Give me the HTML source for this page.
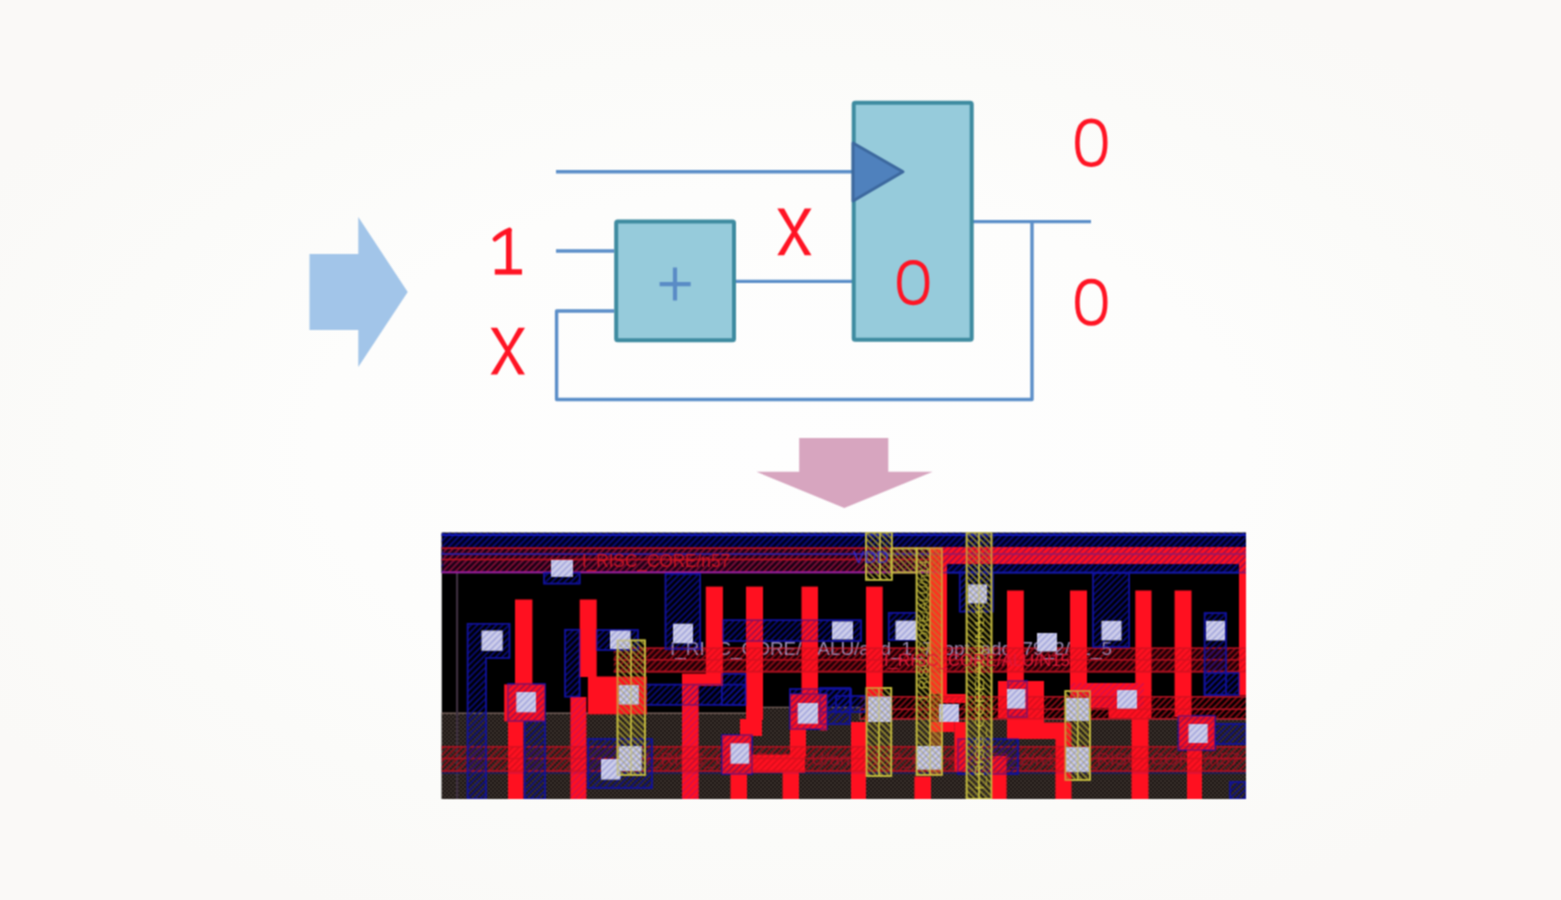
<!DOCTYPE html>
<html><head><meta charset="utf-8"><style>
html,body{margin:0;padding:0;width:1561px;height:900px;overflow:hidden;}
body{background:radial-gradient(ellipse 930px 520px at 780px 450px, #fefefe 0%, #fdfdfc 50%, #fbfbf9 75%, #faf9f7 100%);font-family:"Liberation Sans",sans-serif;}
svg{position:absolute;left:0;top:0;}
</style></head><body>
<svg width="1561" height="900" viewBox="0 0 1561 900">
<defs><filter id="soft2" filterUnits="userSpaceOnUse" x="0" y="0" width="1561" height="900" color-interpolation-filters="sRGB"><feConvolveMatrix order="3" kernelMatrix="1 2 1 2 4 2 1 2 1" divisor="16" edgeMode="none"/></filter></defs>
<g filter="url(#soft2)">
<!-- right arrow -->
<polygon points="309.5,254 358.3,254 358.3,217 407.7,292 358.3,367 358.3,330 309.5,330" fill="#a2c5e9"/>
<!-- wires -->
<g fill="none" stroke="#5b8ec8" stroke-width="3.4" stroke-linejoin="round" stroke-linecap="butt">
<path d="M556 171.7H852"/>
<path d="M556 251H614"/>
<path d="M614 311H556.6V399.5H1032V221.6"/>
<path d="M735 281.4H852"/>
<path d="M973 221.6H1091"/>
</g>
<!-- adder -->
<rect x="616.2" y="221.5" width="117.8" height="118.7" rx="1.5" fill="#96cbdb" stroke="#3e8ba0" stroke-width="4"/>
<path d="M659.6 284.2H690.7M675 267.6V300.4" stroke="#5a8cc6" stroke-width="4.2" fill="none"/>
<!-- flip flop -->
<rect x="853.7" y="102.7" width="118" height="237.1" rx="1.5" fill="#96cbdb" stroke="#3e8ba0" stroke-width="4"/>
<polygon points="853,143 903,171.8 853,201" fill="#4f81bd" stroke="#3c689e" stroke-width="3" stroke-linejoin="round"/>
<!-- pink down arrow -->
<polygon points="799.2,438 888.3,438 888.3,471.8 932.7,471.8 844.3,508.1 756.4,471.8 799.2,471.8" fill="#d7a5bf"/>
<!-- red glyphs -->
<g fill="none" stroke="#ff1424">
<path d="M508.8 229V272" stroke-width="5.6"/><path d="M495 239.2Q501 233.5 509.5 230" stroke-width="4.6" stroke-linecap="round"/><path d="M494.8 271.9H522" stroke-width="5.4"/>
<polygon points="490.6,327.8 497.20000000000005,327.8 510.40,351.10 525,374.4 518.4,374.4 505.20,351.10" fill="#ff1424" stroke="none"/><polygon points="518.4,327.8 525,327.8 510.40,351.10 497.20000000000005,374.4 490.6,374.4 505.20,351.10" fill="#ff1424" stroke="none"/>
<polygon points="777.3,208.6 784.0999999999999,208.6 797.10,231.95 811.5,255.3 804.7,255.3 791.70,231.95" fill="#ff1424" stroke="none"/><polygon points="804.7,208.6 811.5,208.6 797.10,231.95 784.0999999999999,255.3 777.3,255.3 791.70,231.95" fill="#ff1424" stroke="none"/>
<path d="M1091.3 120.9C1099.9 120.9 1105.2 127.0 1105.2 142.8C1105.2 158.6 1099.9 164.7 1091.3 164.7C1082.7 164.7 1077.4 158.6 1077.4 142.8C1077.4 127.0 1082.7 120.9 1091.3 120.9Z" stroke-width="4.6"/>
<path d="M1091.3 281.1C1099.9 281.1 1105.2 287.0 1105.2 302.3C1105.2 317.6 1099.9 323.5 1091.3 323.5C1082.7 323.5 1077.4 317.6 1077.4 302.3C1077.4 287.0 1082.7 281.1 1091.3 281.1Z" stroke-width="4.6"/>
<path d="M913.2 262.2C921.8 262.2 927.1 267.9 927.1 282.6C927.1 297.3 921.8 303.0 913.2 303.0C904.6 303.0 899.3 297.3 899.3 282.6C899.3 267.9 904.6 262.2 913.2 262.2Z" stroke-width="4.5"/>
</g>
</g>
</svg>
<svg id="lay" width="1561" height="900" viewBox="0 0 1561 900">
<defs><pattern id="hb" patternUnits="userSpaceOnUse" width="6.3" height="6.3"><path d="M-3.15 3.15L3.15 -3.15M0 6.3L6.3 0M3.15 9.45L9.45 3.15" stroke="#0a0e90" stroke-width="1.3"/></pattern><pattern id="hr" patternUnits="userSpaceOnUse" width="6.3" height="6.3"><path d="M-3.15 3.15L3.15 -3.15M0 6.3L6.3 0M3.15 9.45L9.45 3.15" stroke="#a00c18" stroke-width="1.4"/></pattern><pattern id="hrl" patternUnits="userSpaceOnUse" width="6.3" height="6.3"><rect width="6.3" height="6.3" fill="#ff1020"/><path d="M-3.15 3.15L3.15 -3.15M0 6.3L6.3 0M3.15 9.45L9.45 3.15" stroke="#d01050" stroke-width="1.4"/></pattern><pattern id="hy" patternUnits="userSpaceOnUse" width="6.3" height="6.3"><path d="M-3.15 3.15L3.15 9.45M0 0L6.3 6.3M3.15 -3.15L9.45 3.15" stroke="#9a9230" stroke-width="1.3"/></pattern><pattern id="hc" patternUnits="userSpaceOnUse" width="6.3" height="6.3"><rect width="6.3" height="6.3" fill="#d0d0ea"/><path d="M-3.15 3.15L3.15 -3.15M0 6.3L6.3 0M3.15 9.45L9.45 3.15" stroke="#a0a4dc" stroke-width="1.6"/></pattern><pattern id="br" patternUnits="userSpaceOnUse" width="4" height="4"><rect width="4" height="4" fill="#1c1614"/><rect width="2" height="2" fill="#3c322d"/><rect x="2" y="2" width="2" height="2" fill="#3c322d"/></pattern><clipPath id="lc"><rect x="441.5" y="532.5" width="804.5" height="266.5"/></clipPath><filter id="soft" filterUnits="userSpaceOnUse" x="430" y="520" width="830" height="290" color-interpolation-filters="sRGB"><feConvolveMatrix order="3" kernelMatrix="1 2 1 2 4 2 1 2 1" divisor="16" edgeMode="none"/></filter></defs>
<g filter="url(#soft)"><g clip-path="url(#lc)" style="isolation:isolate">
<rect x="441.5" y="532.5" width="804.5" height="266.5" fill="#000"/>
<path d="M441.5 713.3H750V707.4H860V719H1246V799H441.5Z" fill="url(#br)"/>
<path d="M441.5 713.3H750V707.4H860V719H1246" stroke="#75605a" stroke-width="1.4" fill="none"/>
<rect x="456" y="573" width="2.2" height="226" fill="#3e3040"/>
<rect x="441.5" y="532.5" width="804.5" height="40.5" fill="#00001a"/>
<rect x="441.5" y="547.5" width="500.1" height="25" fill="#1a0010"/>
<rect x="613.8" y="647.7" width="632.2" height="24.5" fill="#1a0006"/>
<g id="L1"><rect x="441.5" y="532.5" width="804.5" height="40.5" fill="url(#hb)"/>
<path d="M441.5 535H1246" stroke="#1018b8" stroke-width="2"/>
<rect x="443.5" y="547.5" width="498.1" height="25" fill="url(#hr)"/>
<path d="M441.5 548.2H941.6M441.5 559.5H941.6" stroke="#c01020" stroke-width="1.5"/>
<path d="M441.5 554H1246" stroke="#2a20b0" stroke-width="1.4"/>
<path d="M441.5 572.3H941.6" stroke="#a020a8" stroke-width="1.8"/>
<path d="M941.6 572.6H1246" stroke="#1418b0" stroke-width="1.8"/>
<rect x="613.8" y="647.7" width="632.2" height="24.5" fill="url(#hr)"/>
<path d="M613.8 648.3H1246M613.8 659.8H1246M613.8 671.6H1246" stroke="#b01020" stroke-width="1.6"/>
<rect x="860" y="696.3" width="386" height="22.7" fill="url(#hr)"/>
<path d="M860 696.8H1246M860 709.3H1246M860 718.8H1246" stroke="#b01020" stroke-width="1.5"/>
<rect x="441.5" y="746.3" width="804.5" height="25.2" fill="url(#hr)"/>
<path d="M441.5 746.8H1246M441.5 758.5H1246M441.5 771H1246" stroke="#b01020" stroke-width="1.6"/>
<path d="M441.5 773H1246" stroke="#1018b0" stroke-width="1" opacity="0.5"/>
<g fill="url(#hb)" stroke="#1212a0" stroke-width="1.6"><path d="M467.6 623.7H509.5V658H486V799H467.6Z"/>
<rect x="524.6" y="721" width="20.4" height="78.0"/>
<rect x="544" y="573" width="35.7" height="10.6"/>
<rect x="565" y="629.7" width="14.6" height="66.9"/>
<rect x="596.7" y="630" width="41.3" height="20.0"/>
<rect x="665.5" y="573.8" width="34.7" height="75.2"/>
<rect x="723" y="620.2" width="138.0" height="20.8"/>
<rect x="645" y="684.6" width="100.6" height="20.2"/>
<rect x="721.8" y="673.8" width="23.8" height="31.0"/>
<rect x="888.7" y="612.8" width="28.0" height="27.2"/>
<rect x="959.7" y="572.3" width="33.3" height="39.3"/>
<rect x="1093" y="573" width="36.2" height="74.0"/>
<rect x="1204.6" y="613" width="21.4" height="82.0"/>
<rect x="1204.6" y="673" width="34.4" height="21.8"/>
<rect x="1215" y="724" width="31.0" height="20.0"/>
<rect x="1230" y="782" width="16.0" height="17.0"/>
<rect x="790" y="689" width="61.0" height="23.0"/>
<rect x="836" y="696" width="30.0" height="16.0"/>
<rect x="820" y="688" width="30.0" height="36.0"/>
<rect x="588" y="739" width="64.0" height="49.0"/>
<rect x="958" y="739" width="60.0" height="35.0"/>
<rect x="508" y="684" width="37.0" height="37.0"/>
<rect x="790" y="694" width="37.0" height="35.0"/>
<rect x="722" y="735" width="30.0" height="39.0"/>
<rect x="1178.5" y="716" width="36.5" height="34.0"/>
<rect x="1008" y="681" width="19.0" height="36.0"/></g>
<g fill="url(#hy)" stroke="#c8c040" stroke-width="1.6"><rect x="866" y="532.5" width="25.8" height="47.3"/>
<rect x="916.6" y="548.4" width="25.3" height="226.4"/>
<rect x="891.3" y="548.4" width="25.3" height="24.1"/>
<rect x="966.6" y="532.5" width="24.9" height="266.5"/>
<rect x="617.5" y="640.4" width="27.5" height="134.6"/>
<rect x="1065.4" y="691" width="24.6" height="89.0"/>
<rect x="866.5" y="688" width="24.8" height="88.0"/></g>
<path d="M880 532.5V579.8M930 548.4V774.8M979 532.5V799M631 640.4V775M1077.7 691V780M879 688V776" stroke="#c8c040" stroke-width="1.4"/></g>
<text x="670" y="655" font-family="Liberation Sans" font-size="18.5" fill="#a898c8" textLength="442" lengthAdjust="spacingAndGlyphs" opacity="0.95">I_RISC_CORE/MALU/and_1_7_opt_add_79_2/n1_5</text>
<text x="645" y="765" font-family="Liberation Sans" font-size="16" fill="#c01030" textLength="595" lengthAdjust="spacingAndGlyphs" opacity="0.6">I_RISC_CORE/MALU/and_1_7_opt_add_79_2/n1_5   I_RISC_CORE/n57</text>
<g fill="#ff1020"><rect x="515" y="599.5" width="17.4" height="85.5"/>
<rect x="504.2" y="684.4" width="40.8" height="37.0"/>
<rect x="508" y="721" width="15.4" height="78.0"/>
<rect x="579.7" y="599.5" width="17.0" height="77.5"/>
<rect x="587.9" y="676.5" width="58.9" height="37.8"/>
<rect x="705.8" y="586.6" width="17.1" height="99.4"/>
<rect x="682" y="673.6" width="41.0" height="12.4"/>
<rect x="746" y="586.6" width="17.0" height="133.4"/>
<rect x="740" y="719" width="22.0" height="17.0"/>
<rect x="722" y="735" width="29.6" height="39.0"/>
<rect x="730.5" y="773" width="16.5" height="26.0"/>
<rect x="801.5" y="586.6" width="16.5" height="108.4"/>
<rect x="790" y="694" width="37.0" height="35.0"/>
<rect x="790" y="728" width="16.0" height="28.0"/>
<rect x="751" y="754.6" width="54.0" height="18.2"/>
<rect x="782.6" y="772" width="16.4" height="27.0"/>
<rect x="866" y="586.6" width="16.7" height="110.4"/>
<rect x="866" y="696" width="26.0" height="26.0"/>
<rect x="851" y="722" width="15.0" height="77.0"/>
<rect x="929.5" y="547.8" width="17.5" height="146.2"/>
<rect x="941.6" y="694" width="24.2" height="9.0"/>
<rect x="931" y="722" width="23.4" height="10.0"/>
<rect x="954.4" y="722" width="11.4" height="50.0"/>
<rect x="914.4" y="776.5" width="16.6" height="22.5"/>
<rect x="941.6" y="547" width="304.4" height="17.0"/>
<rect x="1239" y="547" width="7.0" height="148.5"/>
<rect x="1007" y="590.5" width="16.8" height="91.5"/>
<rect x="1007" y="681" width="37.0" height="58.0"/>
<rect x="1027" y="722.5" width="29.0" height="16.5"/>
<rect x="1055.4" y="722.5" width="16.1" height="76.5"/>
<rect x="998" y="681" width="9.0" height="37.0"/>
<rect x="992" y="756" width="14.6" height="43.0"/>
<rect x="1070" y="590.5" width="17.0" height="93.5"/>
<rect x="1108.5" y="690" width="43.0" height="28.0"/>
<rect x="1131.5" y="718" width="17.0" height="81.0"/>
<rect x="1135.3" y="590.5" width="16.2" height="100.5"/>
<rect x="1174.6" y="590.5" width="16.9" height="126.5"/>
<rect x="1178.5" y="716" width="36.5" height="34.0"/>
<rect x="1187" y="750" width="15.0" height="49.0"/></g>
<g fill="url(#hrl)"><rect x="570.4" y="697" width="16.0" height="102.0"/>
<rect x="682" y="686" width="16.7" height="113.0"/>
<rect x="1070" y="683" width="73.8" height="25.0"/>
<rect x="820" y="694" width="7.0" height="36.5"/></g>
<use href="#L1" opacity="0.5"/>
<rect x="930" y="548.4" width="11.9" height="226.4" fill="#ff7020" opacity="0.35"/>
<text transform="translate(928 700) rotate(-90)" font-family="Liberation Sans" font-size="12" fill="#d8d040" opacity="0.8" textLength="140" lengthAdjust="spacingAndGlyphs">I_RISC_CORE/ALU/n14</text>
<text transform="translate(984 790) rotate(-90)" font-family="Liberation Sans" font-size="13" fill="#d8d040" opacity="0.8" textLength="190" lengthAdjust="spacingAndGlyphs">I_RISC_CORE/ALU/N140</text>
<g fill="url(#hc)"><rect x="551" y="559.9" width="22.0" height="17.0"/>
<rect x="481.5" y="630.5" width="21.2" height="20.3"/>
<rect x="610" y="630.5" width="20.6" height="18.5"/>
<rect x="516.3" y="692" width="19.7" height="20.3"/>
<rect x="618.7" y="685" width="20.2" height="19.6"/>
<rect x="601" y="759" width="19.5" height="20.6"/>
<rect x="673" y="623.7" width="20.0" height="19.6"/>
<rect x="730.5" y="743.3" width="18.8" height="20.4"/>
<rect x="797.7" y="703" width="20.3" height="20.7"/>
<rect x="832" y="621.4" width="21.0" height="18.1"/>
<rect x="895.5" y="620.6" width="20.5" height="19.4"/>
<rect x="968" y="584.4" width="19.0" height="18.9"/>
<rect x="868" y="696.5" width="23.8" height="25.5"/>
<rect x="939" y="704" width="20.0" height="18.0"/>
<rect x="916.7" y="746" width="24.9" height="23.7"/>
<rect x="1007" y="689" width="18.4" height="19.6"/>
<rect x="1101.5" y="620.8" width="20.0" height="19.6"/>
<rect x="1206" y="620.8" width="19.0" height="19.6"/>
<rect x="1037" y="633" width="20.0" height="18.5"/>
<rect x="1117" y="690" width="20.0" height="18.6"/>
<rect x="1066" y="698" width="23.0" height="23.0"/>
<rect x="1066" y="747" width="23.0" height="25.0"/>
<rect x="1188.5" y="724" width="19.2" height="19.0"/>
<rect x="618.7" y="746" width="23.0" height="25.0"/></g>
<g opacity="0.55"><g fill="url(#hy)" stroke="#c8c040" stroke-width="1.6"><rect x="866" y="532.5" width="25.8" height="47.3"/>
<rect x="916.6" y="548.4" width="25.3" height="226.4"/>
<rect x="891.3" y="548.4" width="25.3" height="24.1"/>
<rect x="966.6" y="532.5" width="24.9" height="266.5"/>
<rect x="617.5" y="640.4" width="27.5" height="134.6"/>
<rect x="1065.4" y="691" width="24.6" height="89.0"/>
<rect x="866.5" y="688" width="24.8" height="88.0"/></g><path d="M880 532.5V579.8M930 548.4V774.8M979 532.5V799M631 640.4V775M1077.7 691V780M879 688V776" stroke="#c8c040" stroke-width="1.4"/></g>
<text x="582" y="567" font-family="Liberation Sans" font-size="18" fill="#d01424" textLength="148" lengthAdjust="spacingAndGlyphs">I_RISC_CORE/n57</text>
<text x="884" y="666" font-family="Liberation Sans" font-size="16" fill="#e01838" textLength="186" lengthAdjust="spacingAndGlyphs">I_RISC_CORE/ALU/N15</text>
<text x="853" y="563" font-family="Liberation Sans" font-size="17" fill="#3030e0" opacity="0.85">VDD</text>
</g></g>
</svg>
</body></html>
